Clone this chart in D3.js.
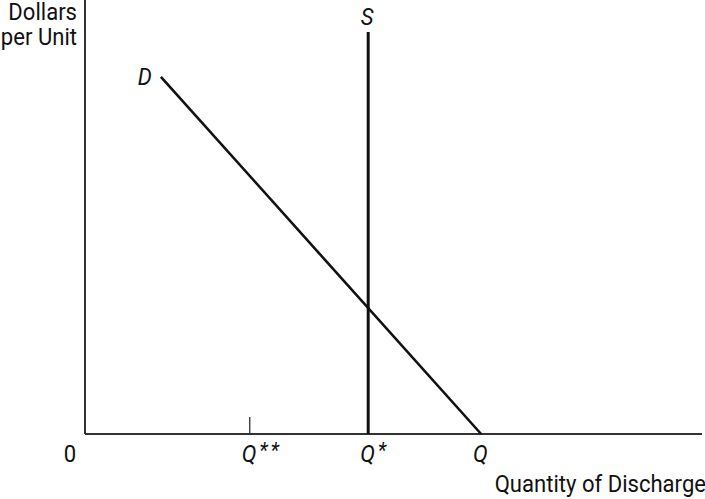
<!DOCTYPE html>
<html>
<head>
<meta charset="utf-8">
<script src="https://cdn.jsdelivr.net/npm/d3@7"></script>
<style>
  body { margin: 0; background: #fff; }
  svg { display: block; }
  text { font-family: Roboto, "Liberation Sans", sans-serif; fill: #111; font-size: 24px; }
</style>
</head>
<body>
<div class="visHolder"></div>
<script>
const width = 705;
const height = 499;

// quantities on the x axis (0..100) and prices (0..100)
const qLabels = ['Q**', 'Q*', 'Q'];
const qValues = [26.7, 45.9, 64.2];
const demand = [[12.3, 82.3], [64.2, 0]];
const supply = [[45.9, 0], [45.9, 92.6]];

const svg = d3.select('.visHolder')
  .append('svg')
  .attr('width', width)
  .attr('height', height);

const xScale = d3.scaleLinear().domain([0, 100]).range([85, 702]);
const yScale = d3.scaleLinear().domain([0, 100]).range([434, 0]);

// condensed look: squeeze text horizontally
const squeeze = 0.92;
function label(x, y, txt, anchor, italic) {
  return svg.append('text')
    .attr('transform', `translate(${x},${y}) scale(${squeeze},1)`)
    .attr('text-anchor', anchor)
    .style('font-style', italic ? 'italic' : 'normal')
    .text(txt);
}

// axes
svg.append('line')
  .attr('x1', xScale(0)).attr('x2', xScale(0))
  .attr('y1', yScale(0)).attr('y2', 0)
  .attr('stroke', '#333').attr('stroke-width', 2);

svg.append('line')
  .attr('x1', xScale(0)).attr('x2', xScale(100))
  .attr('y1', yScale(0)).attr('y2', yScale(0))
  .attr('stroke', '#333').attr('stroke-width', 2);

// tick for Q**
svg.append('line')
  .attr('x1', xScale(qValues[0])).attr('x2', xScale(qValues[0]))
  .attr('y1', yScale(0)).attr('y2', yScale(0) - 17)
  .attr('stroke', '#333').attr('stroke-width', 1.3);

const line = d3.line().x(d => xScale(d[0])).y(d => yScale(d[1]));

svg.append('path')
  .attr('d', line(supply))
  .attr('fill', 'none')
  .attr('stroke', '#111')
  .attr('stroke-width', 3);

svg.append('path')
  .attr('d', line(demand))
  .attr('fill', 'none')
  .attr('stroke', '#111')
  .attr('stroke-width', 2.6);

// labels
label(70, 462, '0', 'middle', false);

qValues.forEach((q, i) => {
  const t = label(xScale(q) - 8, 462, '', 'start', true);
  t.append('tspan').text('Q');
  const stars = qLabels[i].slice(1);
  if (stars) {
    t.append('tspan')
      .attr('dx', 3)
      .attr('dy', -4)
      .style('font-size', '22px')
      .style('letter-spacing', '3px')
      .text(stars);
  }
});

label(xScale(supply[1][0]) - 1, 25, 'S', 'middle', true);
label(xScale(demand[0][0]) - 16, yScale(demand[0][1]) + 8, 'D', 'middle', true);

label(77, 20, 'Dollars', 'end', false);
label(77, 45, 'per Unit', 'end', false);
label(706, 492, 'Quantity of Discharge', 'end', false);
</script>
</body>
</html>
